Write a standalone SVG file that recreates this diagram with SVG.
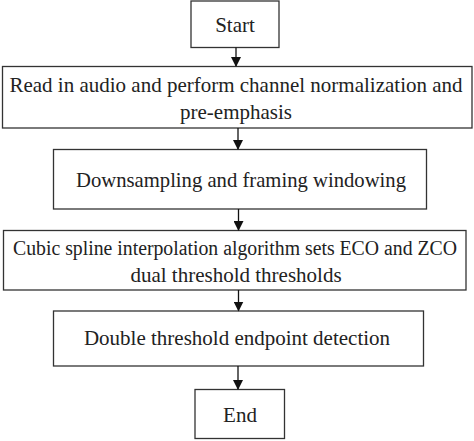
<svg xmlns="http://www.w3.org/2000/svg" width="474" height="441" viewBox="0 0 474 441">
<defs>
<marker id="ah" markerWidth="10" markerHeight="10" refX="9" refY="5" orient="auto" markerUnits="userSpaceOnUse">
<path d="M0,0 L10,5 L0,10 z" fill="#111"/>
</marker>
<style>
.box{fill:#fff;stroke:#333;stroke-width:1.3}
.t{font-family:"Liberation Serif","Times New Roman",serif;font-size:21px;fill:#222;text-anchor:middle}
.c{stroke:#111;stroke-width:1.3;fill:none}
</style>
</defs>
<rect width="474" height="441" fill="#fff"/>
<g id="start"><rect class="box" x="191" y="1" width="88" height="46.5"/><text class="t" x="235" y="32">Start</text></g>
<g id="read"><rect class="box" x="2.5" y="66.5" width="469.5" height="61.5"/><text class="t" x="236" y="91.5">Read in audio and perform channel normalization and</text><text class="t" x="236" y="119">pre-emphasis</text></g>
<g id="down"><rect class="box" x="53.5" y="149.5" width="373" height="59.5"/><text class="t" x="241" y="186.5" textLength="330" lengthAdjust="spacingAndGlyphs">Downsampling and framing windowing</text></g>
<g id="cubic"><rect class="box" x="3.5" y="230.5" width="462.5" height="59.5"/><text class="t" x="235" y="255" style="font-size:20.5px" textLength="444" lengthAdjust="spacingAndGlyphs">Cubic spline interpolation algorithm sets ECO and ZCO</text><text class="t" x="236" y="281.5">dual threshold thresholds</text></g>
<g id="double"><rect class="box" x="53.5" y="311" width="370" height="55"/><text class="t" x="237" y="345">Double threshold endpoint detection</text></g>
<g id="end"><rect class="box" x="195" y="389.5" width="89.5" height="49"/><text class="t" x="240" y="421.5">End</text></g>
<g id="connectors">
<line class="c" x1="236" y1="47.5" x2="236" y2="66" marker-end="url(#ah)"/>
<line class="c" x1="238" y1="128" x2="238" y2="149" marker-end="url(#ah)"/>
<line class="c" x1="238.5" y1="209" x2="238.5" y2="230" marker-end="url(#ah)"/>
<line class="c" x1="238.5" y1="290" x2="238.5" y2="310.5" marker-end="url(#ah)"/>
<line class="c" x1="238" y1="366" x2="238" y2="389" marker-end="url(#ah)"/>
</g>
</svg>
